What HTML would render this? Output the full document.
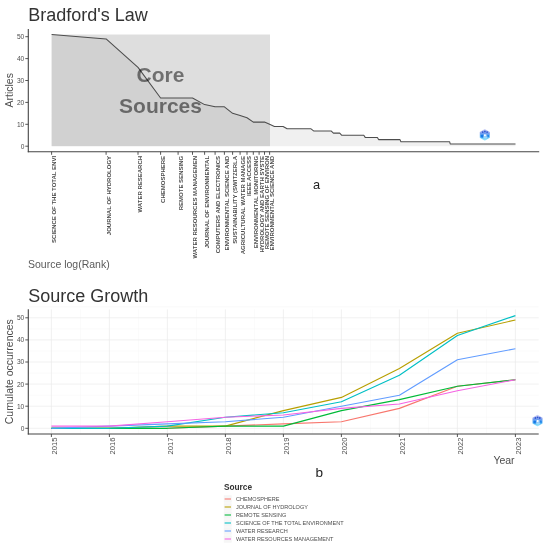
<!DOCTYPE html>
<html lang="en"><head><meta charset="utf-8"><title>Bradford's Law / Source Growth</title>
<style>html,body{margin:0;padding:0;background:#fff}svg{display:block}</style></head>
<body>
<svg width="550" height="548" viewBox="0 0 550 548" font-family='"Liberation Sans", Arial, sans-serif'>
<rect width="550" height="548" fill="#fff"/>
<polygon points="51.6,146.2 51.6,34.5 106.1,38.9 138.0,67.4 160.6,98.0 178.1,98.0 192.5,98.0 204.6,104.6 215.1,106.8 224.4,106.8 232.6,113.3 240.1,115.5 247.0,117.7 253.3,122.1 259.1,122.1 264.5,122.1 269.6,124.3 274.4,126.5 278.9,126.5 283.1,126.5 287.1,128.7 291.0,128.7 294.6,128.7 298.1,128.7 301.5,128.7 304.7,128.7 307.8,128.7 310.7,128.7 313.6,130.9 316.4,130.9 319.0,130.9 321.6,130.9 324.1,130.9 326.5,130.9 328.9,130.9 331.1,130.9 333.4,133.1 335.5,133.1 337.6,133.1 339.7,133.1 341.6,135.2 343.6,135.2 345.5,135.2 347.3,135.2 349.1,135.2 350.9,135.2 352.6,135.2 354.3,135.2 356.0,135.2 357.6,135.2 359.2,135.2 360.7,135.2 362.3,135.2 363.8,135.2 365.2,137.4 366.7,137.4 368.1,137.4 369.5,137.4 370.9,137.4 372.2,137.4 373.5,137.4 374.8,137.4 376.1,137.4 377.4,137.4 378.6,139.6 379.8,139.6 381.0,139.6 382.2,139.6 383.4,139.6 384.5,139.6 385.6,139.6 386.8,139.6 387.9,139.6 388.9,139.6 390.0,139.6 391.1,139.6 392.1,139.6 393.1,139.6 394.2,139.6 395.2,139.6 396.1,139.6 397.1,139.6 398.1,139.6 399.0,139.6 400.0,139.6 400.9,141.8 401.8,141.8 402.7,141.8 403.6,141.8 404.5,141.8 405.4,141.8 406.3,141.8 407.1,141.8 408.0,141.8 408.8,141.8 409.7,141.8 410.5,141.8 411.3,141.8 412.1,141.8 412.9,141.8 413.7,141.8 414.5,141.8 415.2,141.8 416.0,141.8 416.8,141.8 417.5,141.8 418.3,141.8 419.0,141.8 419.7,141.8 420.5,141.8 421.2,141.8 421.9,141.8 422.6,141.8 423.3,141.8 424.0,141.8 424.7,141.8 425.4,141.8 426.0,141.8 426.7,141.8 427.4,141.8 428.0,141.8 428.7,141.8 429.3,141.8 430.0,141.8 430.6,141.8 431.2,141.8 431.9,141.8 432.5,141.8 433.1,141.8 433.7,141.8 434.3,141.8 434.9,141.8 435.5,141.8 436.1,141.8 436.7,141.8 437.3,141.8 437.9,141.8 438.4,141.8 439.0,141.8 439.6,141.8 440.1,141.8 440.7,141.8 441.3,141.8 441.8,141.8 442.4,141.8 442.9,141.8 443.4,141.8 444.0,141.8 444.5,141.8 445.0,141.8 445.6,141.8 446.1,141.8 446.6,141.8 447.1,141.8 447.6,141.8 448.1,141.8 448.7,141.8 449.2,141.8 449.7,141.8 450.2,144.0 450.6,144.0 451.1,144.0 451.6,144.0 452.1,144.0 452.6,144.0 453.1,144.0 453.5,144.0 454.0,144.0 454.5,144.0 454.9,144.0 455.4,144.0 455.9,144.0 456.3,144.0 456.8,144.0 457.2,144.0 457.7,144.0 458.1,144.0 458.6,144.0 459.0,144.0 459.5,144.0 459.9,144.0 460.3,144.0 460.8,144.0 461.2,144.0 461.6,144.0 462.1,144.0 462.5,144.0 462.9,144.0 463.3,144.0 463.7,144.0 464.2,144.0 464.6,144.0 465.0,144.0 465.4,144.0 465.8,144.0 466.2,144.0 466.6,144.0 467.0,144.0 467.4,144.0 467.8,144.0 468.2,144.0 468.6,144.0 469.0,144.0 469.4,144.0 469.7,144.0 470.1,144.0 470.5,144.0 470.9,144.0 471.3,144.0 471.7,144.0 472.0,144.0 472.4,144.0 472.8,144.0 473.1,144.0 473.5,144.0 473.9,144.0 474.2,144.0 474.6,144.0 475.0,144.0 475.3,144.0 475.7,144.0 476.0,144.0 476.4,144.0 476.7,144.0 477.1,144.0 477.5,144.0 477.8,144.0 478.1,144.0 478.5,144.0 478.8,144.0 479.2,144.0 479.5,144.0 479.9,144.0 480.2,144.0 480.5,144.0 480.9,144.0 481.2,144.0 481.5,144.0 481.9,144.0 482.2,144.0 482.5,144.0 482.9,144.0 483.2,144.0 483.5,144.0 483.8,144.0 484.1,144.0 484.5,144.0 484.8,144.0 485.1,144.0 485.4,144.0 485.7,144.0 486.0,144.0 486.4,144.0 486.7,144.0 487.0,144.0 487.3,144.0 487.6,144.0 487.9,144.0 488.2,144.0 488.5,144.0 488.8,144.0 489.1,144.0 489.4,144.0 489.7,144.0 490.0,144.0 490.3,144.0 490.6,144.0 490.9,144.0 491.2,144.0 491.5,144.0 491.8,144.0 492.1,144.0 492.4,144.0 492.7,144.0 492.9,144.0 493.2,144.0 493.5,144.0 493.8,144.0 494.1,144.0 494.4,144.0 494.6,144.0 494.9,144.0 495.2,144.0 495.5,144.0 495.8,144.0 496.0,144.0 496.3,144.0 496.6,144.0 496.9,144.0 497.1,144.0 497.4,144.0 497.7,144.0 497.9,144.0 498.2,144.0 498.5,144.0 498.7,144.0 499.0,144.0 499.3,144.0 499.5,144.0 499.8,144.0 500.1,144.0 500.3,144.0 500.6,144.0 500.9,144.0 501.1,144.0 501.4,144.0 501.6,144.0 501.9,144.0 502.1,144.0 502.4,144.0 502.6,144.0 502.9,144.0 503.2,144.0 503.4,144.0 503.7,144.0 503.9,144.0 504.2,144.0 504.4,144.0 504.7,144.0 504.9,144.0 505.1,144.0 505.4,144.0 505.6,144.0 505.9,144.0 506.1,144.0 506.4,144.0 506.6,144.0 506.8,144.0 507.1,144.0 507.3,144.0 507.6,144.0 507.8,144.0 508.0,144.0 508.3,144.0 508.5,144.0 508.7,144.0 509.0,144.0 509.2,144.0 509.4,144.0 509.7,144.0 509.9,144.0 510.1,144.0 510.4,144.0 510.6,144.0 510.8,144.0 511.1,144.0 511.3,144.0 511.5,144.0 511.7,144.0 512.0,144.0 512.2,144.0 512.4,144.0 512.6,144.0 512.9,144.0 513.1,144.0 513.3,144.0 513.5,144.0 513.7,144.0 514.0,144.0 514.2,144.0 514.4,144.0 514.6,144.0 514.8,144.0 515.1,144.0 515.3,144.0 515.5,144.0 515.5,146.2" fill="#000" fill-opacity="0.06"/>
<rect x="51.6" y="34.5" width="218.4" height="111.7" fill="#000" fill-opacity="0.13"/>
<polyline points="51.6,34.5 106.1,38.9 138.0,67.4 160.6,98.0 178.1,98.0 192.5,98.0 204.6,104.6 215.1,106.8 224.4,106.8 232.6,113.3 240.1,115.5 247.0,117.7 253.3,122.1 259.1,122.1 264.5,122.1 269.6,124.3 274.4,126.5 278.9,126.5 283.1,126.5 287.1,128.7 291.0,128.7 294.6,128.7 298.1,128.7 301.5,128.7 304.7,128.7 307.8,128.7 310.7,128.7 313.6,130.9 316.4,130.9 319.0,130.9 321.6,130.9 324.1,130.9 326.5,130.9 328.9,130.9 331.1,130.9 333.4,133.1 335.5,133.1 337.6,133.1 339.7,133.1 341.6,135.2 343.6,135.2 345.5,135.2 347.3,135.2 349.1,135.2 350.9,135.2 352.6,135.2 354.3,135.2 356.0,135.2 357.6,135.2 359.2,135.2 360.7,135.2 362.3,135.2 363.8,135.2 365.2,137.4 366.7,137.4 368.1,137.4 369.5,137.4 370.9,137.4 372.2,137.4 373.5,137.4 374.8,137.4 376.1,137.4 377.4,137.4 378.6,139.6 379.8,139.6 381.0,139.6 382.2,139.6 383.4,139.6 384.5,139.6 385.6,139.6 386.8,139.6 387.9,139.6 388.9,139.6 390.0,139.6 391.1,139.6 392.1,139.6 393.1,139.6 394.2,139.6 395.2,139.6 396.1,139.6 397.1,139.6 398.1,139.6 399.0,139.6 400.0,139.6 400.9,141.8 401.8,141.8 402.7,141.8 403.6,141.8 404.5,141.8 405.4,141.8 406.3,141.8 407.1,141.8 408.0,141.8 408.8,141.8 409.7,141.8 410.5,141.8 411.3,141.8 412.1,141.8 412.9,141.8 413.7,141.8 414.5,141.8 415.2,141.8 416.0,141.8 416.8,141.8 417.5,141.8 418.3,141.8 419.0,141.8 419.7,141.8 420.5,141.8 421.2,141.8 421.9,141.8 422.6,141.8 423.3,141.8 424.0,141.8 424.7,141.8 425.4,141.8 426.0,141.8 426.7,141.8 427.4,141.8 428.0,141.8 428.7,141.8 429.3,141.8 430.0,141.8 430.6,141.8 431.2,141.8 431.9,141.8 432.5,141.8 433.1,141.8 433.7,141.8 434.3,141.8 434.9,141.8 435.5,141.8 436.1,141.8 436.7,141.8 437.3,141.8 437.9,141.8 438.4,141.8 439.0,141.8 439.6,141.8 440.1,141.8 440.7,141.8 441.3,141.8 441.8,141.8 442.4,141.8 442.9,141.8 443.4,141.8 444.0,141.8 444.5,141.8 445.0,141.8 445.6,141.8 446.1,141.8 446.6,141.8 447.1,141.8 447.6,141.8 448.1,141.8 448.7,141.8 449.2,141.8 449.7,141.8 450.2,144.0 450.6,144.0 451.1,144.0 451.6,144.0 452.1,144.0 452.6,144.0 453.1,144.0 453.5,144.0 454.0,144.0 454.5,144.0 454.9,144.0 455.4,144.0 455.9,144.0 456.3,144.0 456.8,144.0 457.2,144.0 457.7,144.0 458.1,144.0 458.6,144.0 459.0,144.0 459.5,144.0 459.9,144.0 460.3,144.0 460.8,144.0 461.2,144.0 461.6,144.0 462.1,144.0 462.5,144.0 462.9,144.0 463.3,144.0 463.7,144.0 464.2,144.0 464.6,144.0 465.0,144.0 465.4,144.0 465.8,144.0 466.2,144.0 466.6,144.0 467.0,144.0 467.4,144.0 467.8,144.0 468.2,144.0 468.6,144.0 469.0,144.0 469.4,144.0 469.7,144.0 470.1,144.0 470.5,144.0 470.9,144.0 471.3,144.0 471.7,144.0 472.0,144.0 472.4,144.0 472.8,144.0 473.1,144.0 473.5,144.0 473.9,144.0 474.2,144.0 474.6,144.0 475.0,144.0 475.3,144.0 475.7,144.0 476.0,144.0 476.4,144.0 476.7,144.0 477.1,144.0 477.5,144.0 477.8,144.0 478.1,144.0 478.5,144.0 478.8,144.0 479.2,144.0 479.5,144.0 479.9,144.0 480.2,144.0 480.5,144.0 480.9,144.0 481.2,144.0 481.5,144.0 481.9,144.0 482.2,144.0 482.5,144.0 482.9,144.0 483.2,144.0 483.5,144.0 483.8,144.0 484.1,144.0 484.5,144.0 484.8,144.0 485.1,144.0 485.4,144.0 485.7,144.0 486.0,144.0 486.4,144.0 486.7,144.0 487.0,144.0 487.3,144.0 487.6,144.0 487.9,144.0 488.2,144.0 488.5,144.0 488.8,144.0 489.1,144.0 489.4,144.0 489.7,144.0 490.0,144.0 490.3,144.0 490.6,144.0 490.9,144.0 491.2,144.0 491.5,144.0 491.8,144.0 492.1,144.0 492.4,144.0 492.7,144.0 492.9,144.0 493.2,144.0 493.5,144.0 493.8,144.0 494.1,144.0 494.4,144.0 494.6,144.0 494.9,144.0 495.2,144.0 495.5,144.0 495.8,144.0 496.0,144.0 496.3,144.0 496.6,144.0 496.9,144.0 497.1,144.0 497.4,144.0 497.7,144.0 497.9,144.0 498.2,144.0 498.5,144.0 498.7,144.0 499.0,144.0 499.3,144.0 499.5,144.0 499.8,144.0 500.1,144.0 500.3,144.0 500.6,144.0 500.9,144.0 501.1,144.0 501.4,144.0 501.6,144.0 501.9,144.0 502.1,144.0 502.4,144.0 502.6,144.0 502.9,144.0 503.2,144.0 503.4,144.0 503.7,144.0 503.9,144.0 504.2,144.0 504.4,144.0 504.7,144.0 504.9,144.0 505.1,144.0 505.4,144.0 505.6,144.0 505.9,144.0 506.1,144.0 506.4,144.0 506.6,144.0 506.8,144.0 507.1,144.0 507.3,144.0 507.6,144.0 507.8,144.0 508.0,144.0 508.3,144.0 508.5,144.0 508.7,144.0 509.0,144.0 509.2,144.0 509.4,144.0 509.7,144.0 509.9,144.0 510.1,144.0 510.4,144.0 510.6,144.0 510.8,144.0 511.1,144.0 511.3,144.0 511.5,144.0 511.7,144.0 512.0,144.0 512.2,144.0 512.4,144.0 512.6,144.0 512.9,144.0 513.1,144.0 513.3,144.0 513.5,144.0 513.7,144.0 514.0,144.0 514.2,144.0 514.4,144.0 514.6,144.0 514.8,144.0 515.1,144.0 515.3,144.0 515.5,144.0" fill="none" stroke="#4d4d4d" stroke-width="1.05" stroke-linejoin="round"/>
<g font-weight="bold" font-size="21" fill="#000" fill-opacity="0.5" text-anchor="middle"><text x="160.5" y="82.4">Core</text><text x="160.5" y="113.1">Sources</text></g>
<g stroke="#444" stroke-width="1.1" fill="none">
<line x1="28.3" y1="29" x2="28.3" y2="152.2"/>
<line x1="27.8" y1="151.7" x2="539.2" y2="151.7"/>
</g>
<g stroke="#444" stroke-width="0.9">
<line x1="25.3" y1="146.2" x2="28.3" y2="146.2"/>
<line x1="25.3" y1="124.3" x2="28.3" y2="124.3"/>
<line x1="25.3" y1="102.4" x2="28.3" y2="102.4"/>
<line x1="25.3" y1="80.5" x2="28.3" y2="80.5"/>
<line x1="25.3" y1="58.6" x2="28.3" y2="58.6"/>
<line x1="25.3" y1="36.7" x2="28.3" y2="36.7"/>
<line x1="51.6" y1="151.7" x2="51.6" y2="154.8"/>
<line x1="106.1" y1="151.7" x2="106.1" y2="154.8"/>
<line x1="138.0" y1="151.7" x2="138.0" y2="154.8"/>
<line x1="160.6" y1="151.7" x2="160.6" y2="154.8"/>
<line x1="178.1" y1="151.7" x2="178.1" y2="154.8"/>
<line x1="192.5" y1="151.7" x2="192.5" y2="154.8"/>
<line x1="204.6" y1="151.7" x2="204.6" y2="154.8"/>
<line x1="215.1" y1="151.7" x2="215.1" y2="154.8"/>
<line x1="224.4" y1="151.7" x2="224.4" y2="154.8"/>
<line x1="232.6" y1="151.7" x2="232.6" y2="154.8"/>
<line x1="240.1" y1="151.7" x2="240.1" y2="154.8"/>
<line x1="247.0" y1="151.7" x2="247.0" y2="154.8"/>
<line x1="253.3" y1="151.7" x2="253.3" y2="154.8"/>
<line x1="259.1" y1="151.7" x2="259.1" y2="154.8"/>
<line x1="264.5" y1="151.7" x2="264.5" y2="154.8"/>
<line x1="269.6" y1="151.7" x2="269.6" y2="154.8"/>
</g>
<g font-size="6.6" fill="#4d4d4d" text-anchor="end">
<text x="24.3" y="148.6">0</text>
<text x="24.3" y="126.7">10</text>
<text x="24.3" y="104.8">20</text>
<text x="24.3" y="82.9">30</text>
<text x="24.3" y="61.0">40</text>
<text x="24.3" y="39.1">50</text>
</g>
<g font-size="6.0" font-weight="bold" fill="#4d4d4d" text-anchor="end">
<text transform="translate(56.0,155.9) rotate(-90)">SCIENCE OF THE TOTAL ENVI</text>
<text transform="translate(110.5,155.9) rotate(-90)">JOURNAL OF HYDROLOGY</text>
<text transform="translate(142.4,155.9) rotate(-90)">WATER RESEARCH</text>
<text transform="translate(165.0,155.9) rotate(-90)">CHEMOSPHERE</text>
<text transform="translate(182.5,155.9) rotate(-90)">REMOTE SENSING</text>
<text transform="translate(196.9,155.9) rotate(-90)">WATER RESOURCES MANAGEMEN</text>
<text transform="translate(209.0,155.9) rotate(-90)">JOURNAL OF ENVIRONMENTAL</text>
<text transform="translate(219.5,155.9) rotate(-90)">COMPUTERS AND ELECTRONICS</text>
<text transform="translate(228.8,155.9) rotate(-90)">ENVIRONMENTAL SCIENCE AND</text>
<text transform="translate(237.0,155.9) rotate(-90)">SUSTAINABILITY (SWITZERLA</text>
<text transform="translate(244.5,155.9) rotate(-90)">AGRICULTURAL WATER MANAGE</text>
<text transform="translate(251.4,155.9) rotate(-90)">IEEE ACCESS</text>
<text transform="translate(257.7,155.9) rotate(-90)">ENVIRONMENTAL MONITORING</text>
<text transform="translate(263.5,155.9) rotate(-90)">HYDROLOGY AND EARTH SYSTE</text>
<text transform="translate(268.9,155.9) rotate(-90)">REMOTE SENSING OF ENVIRON</text>
<text transform="translate(274.0,155.9) rotate(-90)">ENVIRONMENTAL SCIENCE AND</text>
</g>
<text transform="translate(13.3,90.3) rotate(-90)" font-size="10.5" fill="#4d4d4d" text-anchor="middle">Articles</text>
<text x="28" y="268.4" font-size="10.5" fill="#5a5a5a">Source log(Rank)</text>
<text x="28.3" y="20.5" font-size="18" fill="#333">Bradford's Law</text>
<text x="316.6" y="189" font-size="12.8" fill="#222" text-anchor="middle">a</text>
<defs><linearGradient id="lg" x1="0" y1="0" x2="0" y2="1"><stop offset="0" stop-color="#d0d4f7"/><stop offset="0.22" stop-color="#a4b0ee"/><stop offset="0.4" stop-color="#6d9cf0"/><stop offset="0.62" stop-color="#5ab0f5"/><stop offset="0.85" stop-color="#7ad6fa"/><stop offset="1" stop-color="#b5ecfe"/></linearGradient><filter id="bl" x="-20%" y="-20%" width="140%" height="140%"><feGaussianBlur stdDeviation="0.35"/></filter></defs>
<g filter="url(#bl)"><polygon points="484.8,128.9 489.8,131.9 489.8,137.8 484.8,140.7 479.8,137.8 479.8,131.9" fill="url(#lg)"/><circle cx="482.7" cy="132.1" r="0.9" fill="#2c56d2"/><circle cx="484.9" cy="131.5" r="0.9" fill="#2c56d2"/><circle cx="487.1" cy="132.1" r="0.9" fill="#2c56d2"/><circle cx="482.2" cy="136.1" r="1.6" fill="#1478e6"/><circle cx="487.8" cy="136.0" r="1.3" fill="#1e86ea"/><circle cx="485.4" cy="136.4" r="2.2" fill="#fff" fill-opacity="0.35"/><circle cx="484.9" cy="135.2" r="1.0" fill="#fff"/></g>
<g stroke="#f4f4f4" stroke-width="0.5">
<line x1="28.8" y1="417.2" x2="538.7" y2="417.2"/>
<line x1="28.8" y1="395.2" x2="538.7" y2="395.2"/>
<line x1="28.8" y1="373.1" x2="538.7" y2="373.1"/>
<line x1="28.8" y1="351.0" x2="538.7" y2="351.0"/>
<line x1="28.8" y1="328.9" x2="538.7" y2="328.9"/>
<line x1="28.8" y1="306.8" x2="538.7" y2="306.8"/>
<line x1="80.4" y1="309.3" x2="80.4" y2="433.6"/>
<line x1="138.4" y1="309.3" x2="138.4" y2="433.6"/>
<line x1="196.4" y1="309.3" x2="196.4" y2="433.6"/>
<line x1="254.4" y1="309.3" x2="254.4" y2="433.6"/>
<line x1="312.4" y1="309.3" x2="312.4" y2="433.6"/>
<line x1="370.4" y1="309.3" x2="370.4" y2="433.6"/>
<line x1="428.4" y1="309.3" x2="428.4" y2="433.6"/>
<line x1="486.4" y1="309.3" x2="486.4" y2="433.6"/>
</g>
<g stroke="#ebebeb" stroke-width="0.7">
<line x1="28.8" y1="428.3" x2="538.7" y2="428.3"/>
<line x1="28.8" y1="406.2" x2="538.7" y2="406.2"/>
<line x1="28.8" y1="384.1" x2="538.7" y2="384.1"/>
<line x1="28.8" y1="362.0" x2="538.7" y2="362.0"/>
<line x1="28.8" y1="339.9" x2="538.7" y2="339.9"/>
<line x1="28.8" y1="317.8" x2="538.7" y2="317.8"/>
<line x1="51.4" y1="309.3" x2="51.4" y2="433.6"/>
<line x1="109.4" y1="309.3" x2="109.4" y2="433.6"/>
<line x1="167.4" y1="309.3" x2="167.4" y2="433.6"/>
<line x1="225.4" y1="309.3" x2="225.4" y2="433.6"/>
<line x1="283.4" y1="309.3" x2="283.4" y2="433.6"/>
<line x1="341.4" y1="309.3" x2="341.4" y2="433.6"/>
<line x1="399.4" y1="309.3" x2="399.4" y2="433.6"/>
<line x1="457.4" y1="309.3" x2="457.4" y2="433.6"/>
<line x1="515.4" y1="309.3" x2="515.4" y2="433.6"/>
</g>
<polyline points="51.4,428.3 109.4,428.3 167.4,428.3 225.4,426.1 283.4,423.9 341.4,421.7 399.4,408.4 457.4,386.3 515.4,379.7" fill="none" stroke="#F8766D" stroke-width="1.15" stroke-linejoin="round"/>
<polyline points="51.4,428.3 109.4,428.3 167.4,426.1 225.4,426.1 283.4,410.6 341.4,397.4 399.4,368.6 457.4,333.3 515.4,320.0" fill="none" stroke="#B79F00" stroke-width="1.15" stroke-linejoin="round"/>
<polyline points="51.4,428.3 109.4,428.3 167.4,428.3 225.4,426.1 283.4,426.1 341.4,410.6 399.4,399.6 457.4,386.3 515.4,379.7" fill="none" stroke="#00BA38" stroke-width="1.15" stroke-linejoin="round"/>
<polyline points="51.4,428.3 109.4,428.3 167.4,426.1 225.4,417.2 283.4,412.8 341.4,401.8 399.4,375.3 457.4,335.5 515.4,315.6" fill="none" stroke="#00BFC4" stroke-width="1.15" stroke-linejoin="round"/>
<polyline points="51.4,428.3 109.4,426.1 167.4,423.9 225.4,421.7 283.4,417.2 341.4,406.2 399.4,395.2 457.4,359.8 515.4,348.7" fill="none" stroke="#619CFF" stroke-width="1.15" stroke-linejoin="round"/>
<polyline points="51.4,426.1 109.4,426.1 167.4,421.7 225.4,417.2 283.4,415.0 341.4,408.4 399.4,404.0 457.4,390.7 515.4,379.7" fill="none" stroke="#F564E3" stroke-width="1.15" stroke-linejoin="round"/>
<g stroke="#444" stroke-width="1.1" fill="none">
<line x1="28.3" y1="309.3" x2="28.3" y2="434.5"/>
<line x1="27.8" y1="434" x2="538.7" y2="434"/>
</g>
<g stroke="#444" stroke-width="0.9">
<line x1="25.3" y1="428.3" x2="28.3" y2="428.3"/>
<line x1="25.3" y1="406.2" x2="28.3" y2="406.2"/>
<line x1="25.3" y1="384.1" x2="28.3" y2="384.1"/>
<line x1="25.3" y1="362.0" x2="28.3" y2="362.0"/>
<line x1="25.3" y1="339.9" x2="28.3" y2="339.9"/>
<line x1="25.3" y1="317.8" x2="28.3" y2="317.8"/>
<line x1="51.4" y1="434" x2="51.4" y2="437"/>
<line x1="109.4" y1="434" x2="109.4" y2="437"/>
<line x1="167.4" y1="434" x2="167.4" y2="437"/>
<line x1="225.4" y1="434" x2="225.4" y2="437"/>
<line x1="283.4" y1="434" x2="283.4" y2="437"/>
<line x1="341.4" y1="434" x2="341.4" y2="437"/>
<line x1="399.4" y1="434" x2="399.4" y2="437"/>
<line x1="457.4" y1="434" x2="457.4" y2="437"/>
<line x1="515.4" y1="434" x2="515.4" y2="437"/>
</g>
<g font-size="6.6" fill="#4d4d4d" text-anchor="end">
<text x="24.3" y="430.7">0</text>
<text x="24.3" y="408.6">10</text>
<text x="24.3" y="386.5">20</text>
<text x="24.3" y="364.4">30</text>
<text x="24.3" y="342.3">40</text>
<text x="24.3" y="320.2">50</text>
</g>
<g font-size="7.6" fill="#4d4d4d" text-anchor="end">
<text transform="translate(56.9,437.6) rotate(-90)">2015</text>
<text transform="translate(114.9,437.6) rotate(-90)">2016</text>
<text transform="translate(172.9,437.6) rotate(-90)">2017</text>
<text transform="translate(230.9,437.6) rotate(-90)">2018</text>
<text transform="translate(288.9,437.6) rotate(-90)">2019</text>
<text transform="translate(346.9,437.6) rotate(-90)">2020</text>
<text transform="translate(404.9,437.6) rotate(-90)">2021</text>
<text transform="translate(462.9,437.6) rotate(-90)">2022</text>
<text transform="translate(520.9,437.6) rotate(-90)">2023</text>
</g>
<text transform="translate(13.3,371.7) rotate(-90)" font-size="10.5" fill="#4d4d4d" text-anchor="middle">Cumulate occurrences</text>
<text x="514.6" y="463.9" font-size="10.5" fill="#4d4d4d" text-anchor="end">Year</text>
<text x="28.3" y="301.8" font-size="18" fill="#333">Source Growth</text>
<text x="319.3" y="476.7" font-size="13.6" fill="#222" text-anchor="middle">b</text>
<g filter="url(#bl)"><polygon points="537.5,414.8 542.5,417.8 542.5,423.6 537.5,426.6 532.5,423.6 532.5,417.8" fill="url(#lg)"/><circle cx="535.4" cy="418.0" r="0.9" fill="#2c56d2"/><circle cx="537.6" cy="417.4" r="0.9" fill="#2c56d2"/><circle cx="539.8" cy="418.0" r="0.9" fill="#2c56d2"/><circle cx="534.9" cy="422.0" r="1.6" fill="#1478e6"/><circle cx="540.5" cy="421.9" r="1.3" fill="#1e86ea"/><circle cx="538.1" cy="422.3" r="2.2" fill="#fff" fill-opacity="0.35"/><circle cx="537.6" cy="421.1" r="1.0" fill="#fff"/></g>
<text x="223.9" y="489.9" font-size="8.3" font-weight="bold" fill="#333">Source</text>
<rect x="223.8" y="495.3" width="7.9" height="7.4" fill="#f6f6f6"/>
<line x1="224.6" y1="499.0" x2="231.0" y2="499.0" stroke="#F8766D" stroke-width="1.25" stroke-opacity="0.85"/>
<text x="236.0" y="501.0" font-size="5.55" fill="#4d4d4d">CHEMOSPHERE</text>
<rect x="223.8" y="503.3" width="7.9" height="7.4" fill="#f6f6f6"/>
<line x1="224.6" y1="507.0" x2="231.0" y2="507.0" stroke="#B79F00" stroke-width="1.25" stroke-opacity="0.85"/>
<text x="236.0" y="509.0" font-size="5.55" fill="#4d4d4d">JOURNAL OF HYDROLOGY</text>
<rect x="223.8" y="511.3" width="7.9" height="7.4" fill="#f6f6f6"/>
<line x1="224.6" y1="515.0" x2="231.0" y2="515.0" stroke="#00BA38" stroke-width="1.25" stroke-opacity="0.85"/>
<text x="236.0" y="517.0" font-size="5.55" fill="#4d4d4d">REMOTE SENSING</text>
<rect x="223.8" y="519.3" width="7.9" height="7.4" fill="#f6f6f6"/>
<line x1="224.6" y1="523.0" x2="231.0" y2="523.0" stroke="#00BFC4" stroke-width="1.25" stroke-opacity="0.85"/>
<text x="236.0" y="525.0" font-size="5.55" fill="#4d4d4d">SCIENCE OF THE TOTAL ENVIRONMENT</text>
<rect x="223.8" y="527.3" width="7.9" height="7.4" fill="#f6f6f6"/>
<line x1="224.6" y1="531.0" x2="231.0" y2="531.0" stroke="#619CFF" stroke-width="1.25" stroke-opacity="0.85"/>
<text x="236.0" y="533.0" font-size="5.55" fill="#4d4d4d">WATER RESEARCH</text>
<rect x="223.8" y="535.3" width="7.9" height="7.4" fill="#f6f6f6"/>
<line x1="224.6" y1="539.0" x2="231.0" y2="539.0" stroke="#F564E3" stroke-width="1.25" stroke-opacity="0.85"/>
<text x="236.0" y="541.0" font-size="5.55" fill="#4d4d4d">WATER RESOURCES MANAGEMENT</text>
</svg>
</body></html>
